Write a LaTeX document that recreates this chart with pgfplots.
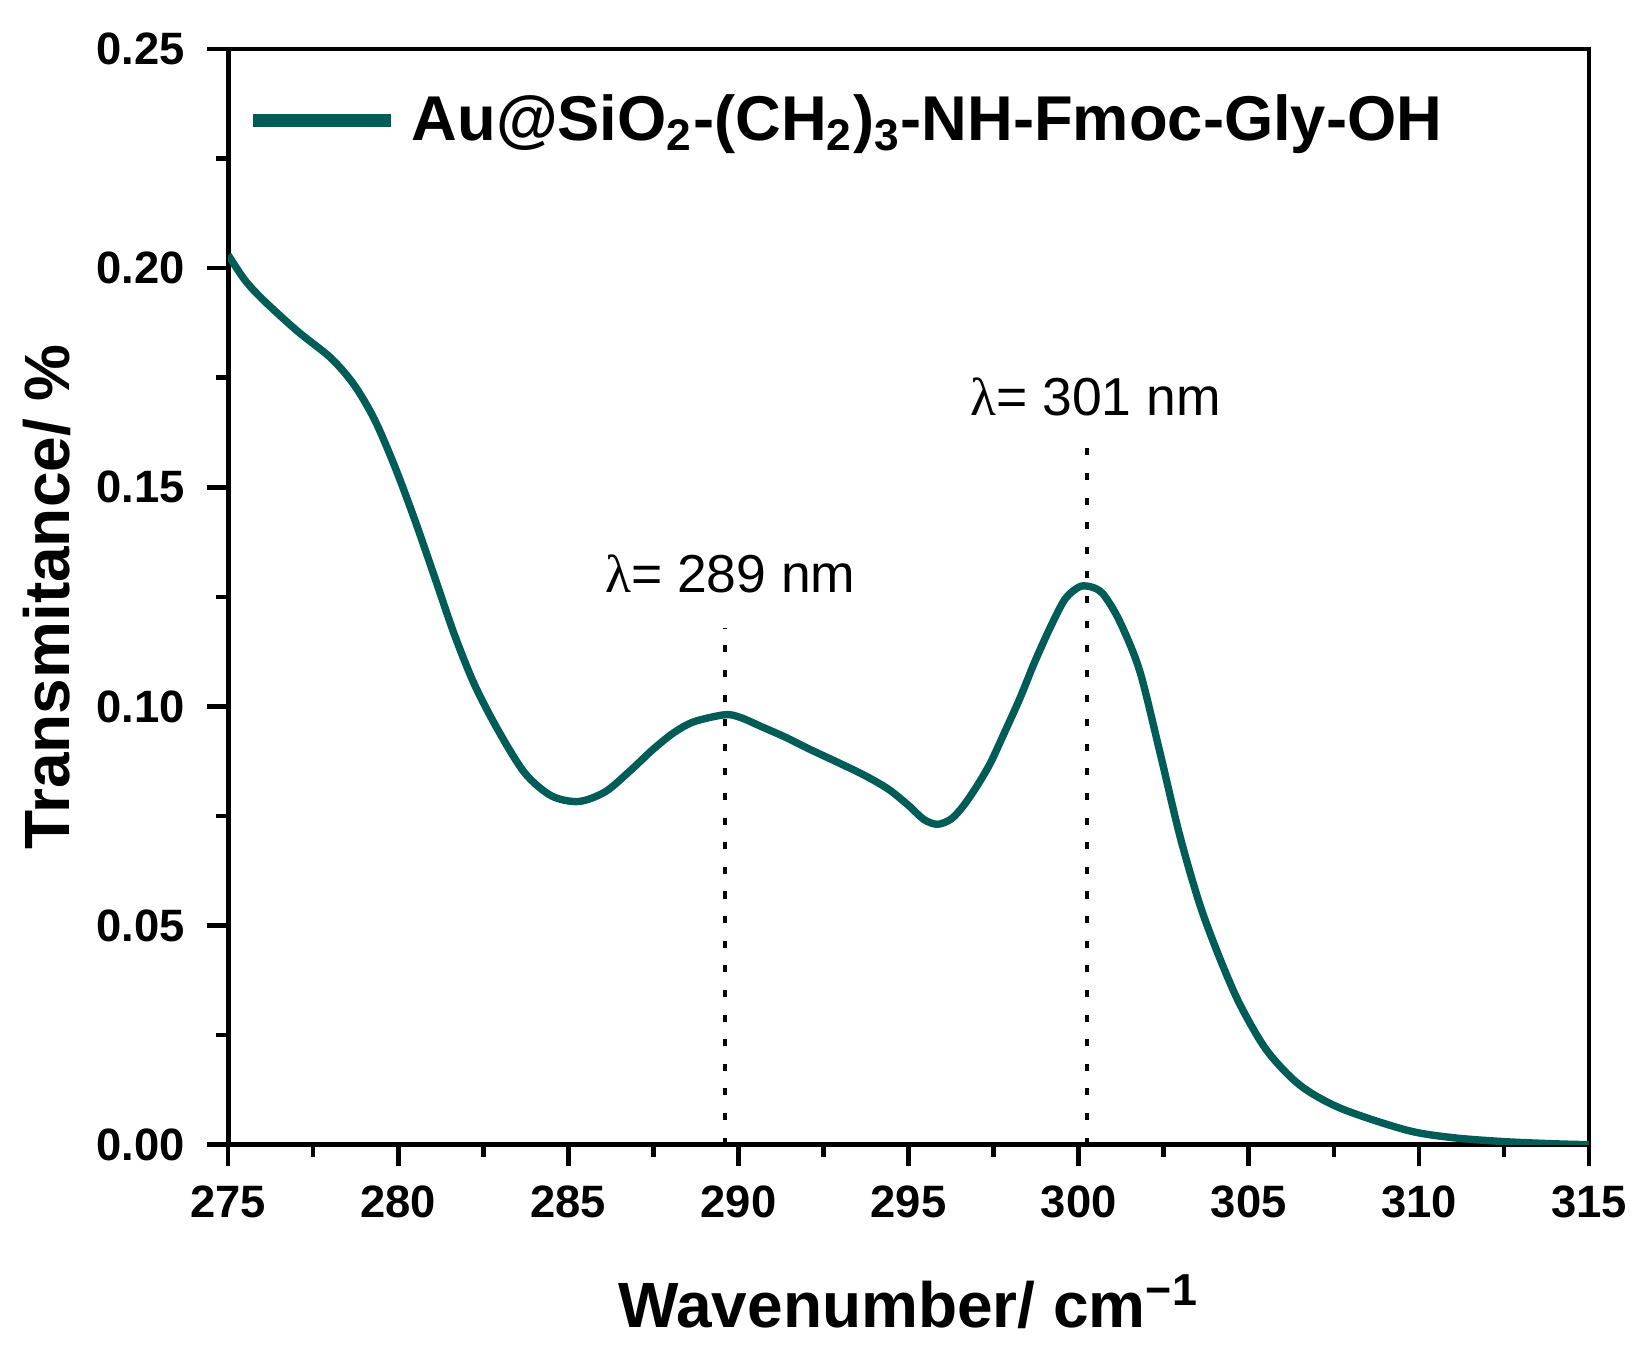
\documentclass[border=0pt]{standalone}
\usepackage{fontspec}
\setmainfont{Liberation Sans}
\newfontfamily\serifl{Liberation Serif}
\usepackage{pgfplots}
\pgfplotsset{compat=1.18}
\definecolor{curve}{RGB}{0,92,87}
\begin{document}
\begin{tikzpicture}
\begin{axis}[
  scale only axis,
  width=13.6cm, height=10.95cm,
  xmin=275, xmax=315, ymin=0, ymax=0.25,
  xtick={275,280,...,315},
  ytick={0,0.05,...,0.25},
  minor x tick num=1, minor y tick num=1,
  tick pos=left,
  tick align=outside,
  major tick length=0.21cm,
  minor tick length=0.12cm,
  every tick/.style={line width=1.3pt, black},
  axis line style={line width=1.4pt},
  ticklabel style={font=\fontsize{12.9}{14}\selectfont\bfseries},
  /pgf/number format/assume math mode=true,
  yticklabel style={/pgf/number format/fixed, /pgf/number format/fixed zerofill, /pgf/number format/precision=2, xshift=-0.1cm},
  xticklabel style={yshift=-0.08cm},
  scaled y ticks=false,
  xlabel={Wavenumber/ cm\textsuperscript{−1}},
  ylabel={Transmitance/ \%},
  label style={font=\fontsize{18.2}{21}\selectfont\bfseries},
  xlabel style={at={(axis description cs:0.5,-0.167)}, anchor=base},
  ylabel style={at={(axis description cs:-0.133,0.5)}, anchor=center},
  legend style={at={(axis description cs:0.013,0.935)}, anchor=west, draw=none, fill=none,
    inner sep=0pt, font=\fontsize{18}{20}\selectfont\bfseries,
    nodes={inner sep=0pt}},
  legend cell align=left,
]
\addplot[color=curve, line width=2.1pt, smooth, tension=0.5,
  legend image code/.code={\draw[line width=3.6pt, color=curve] (0cm,0cm) -- (1.38cm,0cm); \path (1.55cm,0cm);}]
 coordinates {
 (275.0,0.2030) (275.5,0.1972) (276.05,0.1926) (277.04,0.1856) (278.02,0.1795)
 (278.7,0.1734) (279.3,0.1655) (279.89,0.1549) (280.48,0.1427) (281.07,0.1295)
 (281.65,0.1164) (282.24,0.1050) (282.94,0.0945) (283.72,0.0848) (284.5,0.0796)
 (285.3,0.0783) (286.08,0.0805) (286.8,0.0852) (287.49,0.0902) (288.1,0.0940)
 (288.69,0.0965) (289.6,0.0981) (290.05,0.0975) (290.7,0.0953) (291.4,0.0929)
 (292.1,0.0902) (292.9,0.0873) (293.7,0.0843) (294.41,0.0811) (295.0,0.0774)
 (295.45,0.0742) (295.85,0.0731) (296.25,0.0743) (296.6,0.0772) (297.0,0.0817)
 (297.4,0.0870) (297.8,0.0937) (298.27,0.1018) (298.7,0.1100) (299.17,0.1181)
 (299.6,0.1245) (300.0,0.1272) (300.3,0.1274) (300.7,0.1258) (301.2,0.1195)
 (301.79,0.1082) (302.38,0.0898) (302.97,0.0706) (303.56,0.0548) (304.15,0.0425)
 (304.74,0.0320) (305.53,0.0215) (306.5,0.0136) (307.7,0.0083) (309.65,0.0033)
 (311.0,0.0016) (312.5,0.0007) (314.0,0.0002) (315.0,0.0000)
 };
\addlegendentry{Au@SiO\textsubscript{2}-(CH\textsubscript{2})\textsubscript{3}-NH-Fmoc-Gly-OH}
\addplot[black, line width=1pt, dash pattern=on 2pt off 5pt, forget plot] coordinates {(289.6,0) (289.6,0.118)};
\addplot[black, line width=1pt, dash pattern=on 2pt off 5pt, forget plot] coordinates {(300.25,0) (300.25,0.1615)};
\node[anchor=base, font=\fontsize{15.2}{17}\selectfont] at (axis cs:289.76,0.126) {{\serifl λ}= 289 nm};
\node[anchor=base, font=\fontsize{15.2}{17}\selectfont] at (axis cs:300.5,0.1664) {{\serifl λ}= 301 nm};
\coordinate (sw) at (rel axis cs:0,0);
\coordinate (ne) at (rel axis cs:1,1);
\end{axis}
\pgfresetboundingbox
\path ([shift={(-2.28cm,-2.09cm)}]sw) rectangle ([shift={(0.52cm,0.49cm)}]ne);
\end{tikzpicture}
\end{document}
